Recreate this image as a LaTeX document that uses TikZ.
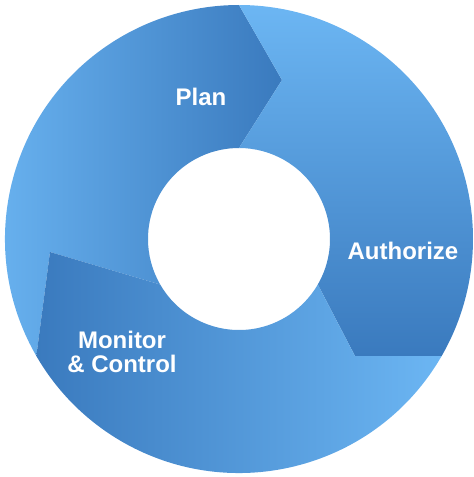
\documentclass[tikz,border=0pt]{standalone}
\usepackage{fontspec}
\setmainfont{Liberation Sans}

\definecolor{claro}{HTML}{6CB6F3}
\definecolor{oscuro}{HTML}{3A7ABE}

\tikzset{
  etiqueta/.style={text=white, font=\fontsize{24}{23.7}\selectfont\bfseries, align=center}
}

\begin{document}
\begin{tikzpicture}

    \useasboundingbox (-239pt,-238pt) rectangle (235pt,239pt);

    % Puntas
    \coordinate (t1) at (43pt,159pt);
    \coordinate (t2) at (116pt,-117pt);
    \coordinate (t3) at (-189pt,-13pt);

    % Segmentos
    \shade[left color=claro, right color=oscuro]
        (210:234pt) arc[start angle=210, end angle=90, radius=234pt]
        -- (t1) -- (90:91pt) arc[start angle=90, end angle=210, radius=91pt]
        -- (t3) -- cycle;

    \shade[top color=claro, bottom color=oscuro]
        (90:234pt) arc[start angle=90, end angle=-30, radius=234pt]
        -- (t2) -- (-30:91pt) arc[start angle=-30, end angle=90, radius=91pt]
        -- (t1) -- cycle;

    \shade[left color=oscuro, right color=claro]
        (-30:234pt) arc[start angle=-30, end angle=-150, radius=234pt]
        -- (t3) -- (210:91pt) arc[start angle=210, end angle=330, radius=91pt]
        -- (t2) -- cycle;

    % Etiquetas
    \node[etiqueta] (plan) at (-38pt,142pt) {Plan};
    \node[etiqueta] (authorize) at (164pt,-12pt) {Authorize};
    \node[etiqueta] (monitor) at (-117pt,-113pt) {Monitor\\\& Control};

\end{tikzpicture}
\end{document}
